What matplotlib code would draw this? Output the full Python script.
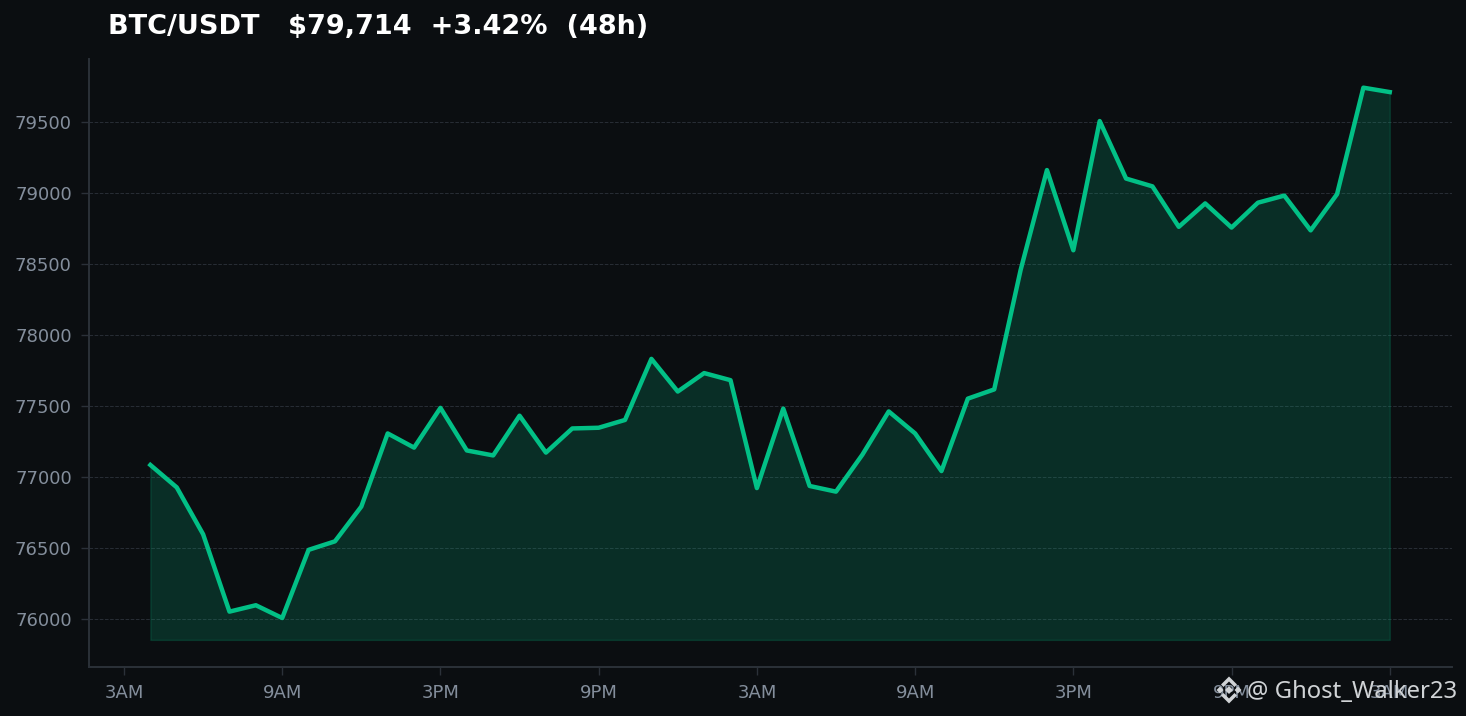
import matplotlib
matplotlib.use('Agg')
import matplotlib.pyplot as plt
from matplotlib.patches import Polygon

# hourly closes, first point is one hour after the 3AM tick
hours = list(range(1, 49))
prices = [77088, 76930, 76600, 76055, 76100, 76010, 76490, 76550, 76795, 77310,
          77210, 77490, 77190, 77155, 77435, 77175, 77345, 77350, 77405, 77835,
          77605, 77735, 77685, 76925, 77485, 76940, 76900, 77160, 77465, 77310,
          77045, 77555, 77620, 78460, 79165, 78600, 79510, 79105, 79050, 78765,
          78930, 78760, 78935, 78985, 78740, 78995, 79745, 79714]
fill_base = 75856

x_ticks = [0, 6, 12, 18, 24, 30, 36, 42, 48]
x_labels = ['3AM', '9AM', '3PM', '9PM', '3AM', '9AM', '3PM', '9PM', '3AM']
y_ticks = [76000, 76500, 77000, 77500, 78000, 78500, 79000, 79500]

BG = '#0b0e11'
GREEN = '#02c086'
SPINE = '#2b3139'
MUTED = '#848e9c'

W, H = 1466, 716
fig = plt.figure(figsize=(W / 100, H / 100), dpi=100, facecolor=BG)
ax = fig.add_axes([88.5 / W, 1 - 667 / H, (1452 - 88.5) / W, (667 - 59) / H], facecolor=BG)

ax.fill_between(hours, prices, fill_base, color=GREEN, alpha=0.18, linewidth=1)
ax.plot(hours, prices, color=GREEN, linewidth=3.2, solid_joinstyle='round', zorder=3)

ax.set_xlim(-1.346, 50.36)
ax.set_ylim(75665, 79947)
ax.set_xticks(x_ticks)
ax.set_xticklabels(x_labels)
ax.set_yticks(y_ticks)
ax.grid(axis='y', color=SPINE, linestyle='--', linewidth=0.7, alpha=0.9)
ax.set_axisbelow(True)
ax.tick_params(colors=MUTED, labelsize=13, length=6, width=1, color=SPINE, pad=6)
for side in ['top', 'right']:
    ax.spines[side].set_visible(False)
for side in ['left', 'bottom']:
    ax.spines[side].set_color(SPINE)
    ax.spines[side].set_linewidth(1.4)

fig.text(108 / W, 1 - 27 / H, 'BTC/USDT   $79,714  +3.42%  (48h)', color='white',
         fontsize=19.5, fontweight='bold', va='center', ha='left')

# watermark: logo and handle sit over the x tick labels
fig.text(1247 / W, 1 - 691.5 / H, '@ Ghost_Walker23', color='#d0d3d6', fontsize=17.2,
         family='Noto Sans', va='center', ha='left', zorder=10)


def px(pts, cx=1229, cy=690):
    return [((cx + a) / W, 1 - (cy + b) / H) for a, b in pts]


logo = [
    [(0, -4), (4, 0), (0, 4), (-4, 0)],
    [(-9, -3.5), (-5.5, 0), (-9, 3.5), (-12.5, 0)],
    [(9, -3.5), (12.5, 0), (9, 3.5), (5.5, 0)],
    [(0, -13.5), (8, -5.5), (5.5, -3), (0, -8.5), (-5.5, -3), (-8, -5.5)],
    [(0, 13.5), (-8, 5.5), (-5.5, 3), (0, 8.5), (5.5, 3), (8, 5.5)],
]
for pts in logo:
    fig.add_artist(Polygon(px(pts), closed=True, transform=fig.transFigure,
                           facecolor='#d0d3d6', edgecolor='none', zorder=10))

fig.savefig('out.png', dpi=100, facecolor=BG)
